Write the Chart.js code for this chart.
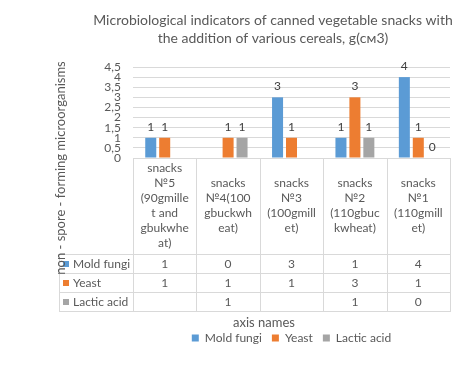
<!DOCTYPE html>
<html><head><meta charset="utf-8">
<script src="https://cdn.jsdelivr.net/npm/chart.js@4/dist/chart.umd.min.js"></script>
<style>html,body{margin:0;padding:0;background:#fff}#wrap{width:474px;height:368px;position:relative}</style>
</head><body><div id="wrap"><canvas id="c" width="474" height="368"></canvas></div>
<script>
const titleLines = ["Microbiological indicators of canned vegetable snacks with", "the addition of various cereals, g(см3)"];
const yAxisTitle = "non - spore - forming microorganisms";
const xAxisTitle = "axis names";
const categories = [
  ["snacks", "№5", "(90gmille", "t and", "gbukwhe", "at)"],
  ["snacks", "№4(100", "gbuckwh", "eat)"],
  ["snacks", "№3", "(100gmill", "et)"],
  ["snacks", "№2", "(110gbuc", "kwheat)"],
  ["snacks", "№1", "(110gmill", "et)"]
];
const seriesNames = ["Mold fungi", "Yeast", "Lactic acid"];
const moldFungi = [1, 0, 3, 1, 4];
const yeast = [1, 1, 1, 3, 1];
const lacticAcid = [null, 1, null, 1, 0];
// which bar value labels are printed above the bars (the picture omits one)
const moldFungiLabelShown = [true, false, true, true, true];
const yeastLabelShown = [true, true, true, true, true];
const lacticAcidLabelShown = [false, true, false, true, true];
const yTickValues = [0, 0.5, 1, 1.5, 2, 2.5, 3, 3.5, 4, 4.5];
const colors = ["#5b9bd5", "#ed7d31", "#a5a5a5"];

const FONT = 'Lato, "Open Sans", sans-serif';
const TXT = '#595959';
const LINE = '#d9d9d9';
const seriesData = [moldFungi, yeast, lacticAcid];
const labelShown = [moldFungiLabelShown, yeastLabelShown, lacticAcidLabelShown];

const extras = {
  id: 'extras',
  afterDatasetsDraw(chart) {
    const ctx = chart.ctx;
    ctx.save();
    ctx.font = '12px ' + FONT;
    ctx.fillStyle = '#404040';
    ctx.textAlign = 'center';
    ctx.textBaseline = 'middle';
    chart.data.datasets.forEach((ds, di) => {
      const meta = chart.getDatasetMeta(di);
      meta.data.forEach((el, i) => {
        const v = ds.data[i];
        if (v === null || v === undefined || !labelShown[di][i]) return;
        ctx.fillText(String(v), el.x, el.y - 11);
      });
    });
    ctx.restore();
  },
  afterDraw(chart) {
    const ctx = chart.ctx, x = chart.scales.x, ca = chart.chartArea;
    const n = categories.length;
    const step = x.getPixelForValue(1) - x.getPixelForValue(0);
    const bound = i => x.getPixelForValue(0) - step / 2 + i * step;
    const tTop = ca.bottom, hdrH = 96, rowH = 19, labelLeft = 59;
    const hdrBottom = tTop + hdrH;
    const tBottom = hdrBottom + rowH * 3;
    ctx.save();
    ctx.strokeStyle = LINE; ctx.lineWidth = 1;
    ctx.beginPath();
    for (let i = 0; i <= n; i++) {
      const xx = Math.round(bound(i)) + 0.5;
      ctx.moveTo(xx, tTop); ctx.lineTo(xx, tBottom);
    }
    ctx.moveTo(labelLeft + 0.5, hdrBottom); ctx.lineTo(labelLeft + 0.5, tBottom);
    ctx.moveTo(Math.round(bound(0)), Math.round(tTop) + 0.5); ctx.lineTo(Math.round(bound(n)) + 1, Math.round(tTop) + 0.5);
    for (let r = 0; r <= 3; r++) {
      const yy = Math.round(hdrBottom + r * rowH) + 0.5;
      ctx.moveTo(labelLeft, yy); ctx.lineTo(Math.round(bound(n)) + 1, yy);
    }
    ctx.stroke();

    ctx.fillStyle = TXT;
    ctx.font = '12px ' + FONT;
    ctx.textAlign = 'center';
    ctx.textBaseline = 'middle';
    const lh = 15;
    categories.forEach((lines, i) => {
      const cx = x.getPixelForValue(i);
      const cy = (tTop + hdrBottom) / 2;
      const y0 = cy - (lines.length - 1) * lh / 2;
      lines.forEach((t, k) => ctx.fillText(t, cx, y0 + k * lh));
    });
    seriesData.forEach((arr, r) => {
      const cy = hdrBottom + r * rowH + rowH / 2 + 0.5;
      ctx.fillStyle = colors[r];
      ctx.fillRect(63, Math.round(cy - 3), 6, 6);
      ctx.fillStyle = TXT;
      ctx.textAlign = 'left';
      ctx.fillText(seriesNames[r], 73, cy);
      ctx.textAlign = 'center';
      arr.forEach((v, i) => {
        if (v === null || v === undefined) return;
        ctx.fillText(String(v), x.getPixelForValue(i), cy);
      });
    });

    ctx.font = '14px ' + FONT;
    ctx.fillText(titleLines[0], 273, 20);
    ctx.fillText(titleLines[1], 273, 38);
    ctx.font = '13px ' + FONT;
    ctx.fillText(xAxisTitle, 264, 323);
    ctx.save();
    ctx.translate(61, 168);
    ctx.rotate(-Math.PI / 2);
    ctx.fillText(yAxisTitle, 0, 0);
    ctx.restore();
    ctx.restore();
  }
};

new Chart(document.getElementById('c'), {
  type: 'bar',
  data: {
    labels: categories,
    datasets: seriesNames.map((name, i) => ({
      label: name,
      data: seriesData[i],
      backgroundColor: colors[i],
      borderWidth: 0,
      categoryPercentage: 0.66,
      barPercentage: 0.79
    }))
  },
  options: {
    responsive: false,
    animation: false,
    devicePixelRatio: 1,
    layout: { padding: { left: 0, top: 67, right: 24, bottom: 14 } },
    plugins: {
      title: { display: false },
      tooltip: { enabled: false },
      legend: {
        position: 'bottom',
        fullSize: false,
        labels: {
          boxWidth: 7, boxHeight: 7, padding: 10,
          color: TXT,
          font: { family: FONT, size: 12 }
        }
      }
    },
    scales: {
      x: {
        grid: { display: false },
        border: { display: false },
        ticks: { display: false },
        afterFit(scale) { scale.height = 164; }
      },
      y: {
        min: 0, max: 4.5,
        afterBuildTicks(scale) { scale.ticks = yTickValues.map(v => ({ value: v })); },
        afterFit(scale) { scale.width = 133; },
        grid: { color: LINE, drawTicks: false },
        border: { display: false },
        ticks: {
          autoSkip: false,
          padding: 12,
          color: TXT,
          font: { family: FONT, size: 12, lineHeight: 1 },
          callback: v => String(v).replace('.', ',')
        }
      }
    }
  },
  plugins: [extras]
});
</script>
</body></html>
